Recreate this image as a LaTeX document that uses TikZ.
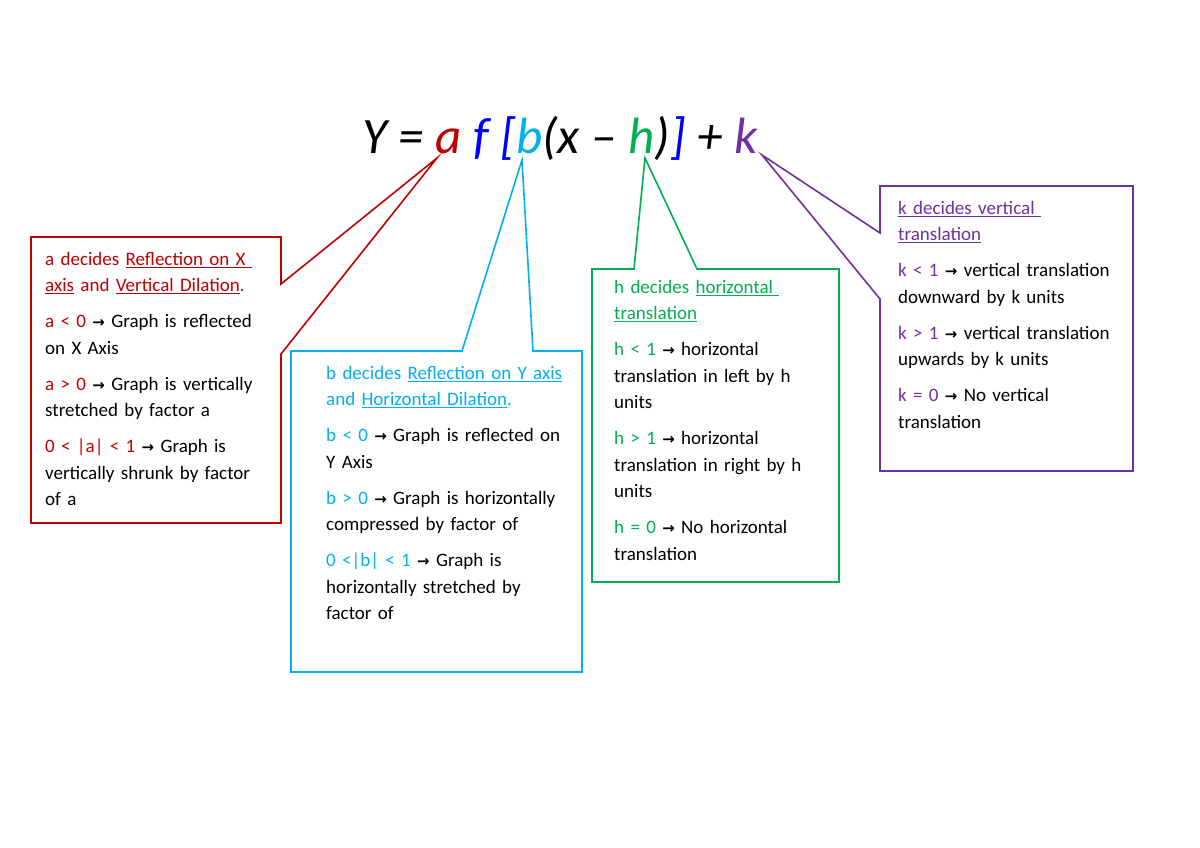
\documentclass[tikz,border=0pt]{standalone}
\usepackage{fontspec}
\setmainfont{Carlito}
\newfontfamily\dv{DejaVu Sans}
\definecolor{cr}{HTML}{C00000}
\definecolor{cb}{HTML}{0000FF}
\definecolor{clb}{HTML}{00B0F0}
\definecolor{cg}{HTML}{00B050}
\definecolor{cp}{HTML}{7030A0}
\newcommand{\ar}{ {\dv\bfseries\fontsize{15}{15}\selectfont →} }
\tikzset{txt/.style={anchor=north west,inner sep=0pt,align=left,font=\fontsize{19}{26.5}\selectfont,execute at begin node={\setlength{\parskip}{9.5pt}\raggedright\hyphenpenalty=10000\exhyphenpenalty=10000}},
 co/.style={line width=1.6pt}}
\begin{document}
\begin{tikzpicture}[x=1pt,y=-1pt]
\useasboundingbox[fill=white] (0,0) rectangle (1200,848);
\node[anchor=base,inner sep=0pt,font=\fontsize{51}{51}\selectfont\itshape] (eq) at (560,154) {Y = \textcolor{cr}{a} \textcolor{cb}{f [}\textcolor{clb}{b}(x \textendash{} \textcolor{cg}{h})\textcolor{cb}{]} + \textcolor{cp}{k}};
\draw[co,cr] (31,237) -- (281,237) -- (281,284) -- (437,158) -- (281,354) -- (281,523) -- (31,523) -- cycle;
\draw[co,clb] (291,351) -- (462,351) -- (522,160) -- (533,351) -- (582,351) -- (582,672) -- (291,672) -- cycle;
\draw[co,cg] (592,269) -- (634,269) -- (645,158) -- (697,269) -- (839,269) -- (839,582) -- (592,582) -- cycle;
\draw[co,cp] (880,186) -- (1133,186) -- (1133,471) -- (880,471) -- (880,299) -- (762,155) -- (880,233) -- cycle;
\node[txt,text width=235pt] (ta) at (45,252) {\textcolor{cr}{a decides \underline{Reflection on X }\\\underline{axis} and \underline{Vertical Dilation}.}\par
\textcolor{cr}{a < 0}\ar Graph is reflected\\on X Axis\par
\textcolor{cr}{a > 0}\ar Graph is vertically\\stretched by factor a\par
\textcolor{cr}{0 < |a| < 1}\ar Graph is\\vertically shrunk by factor\\of a};
\node[txt,text width=250pt] (tb) at (326,366) {\textcolor{clb}{b decides \underline{Reflection on Y axis}\\and \underline{Horizontal Dilation}.}\par
\textcolor{clb}{b < 0}\ar Graph is reflected on\\Y Axis\par
\textcolor{clb}{b > 0}\ar Graph is horizontally\\compressed by factor of\par
\textcolor{clb}{0 <|b| < 1}\ar Graph is\\horizontally stretched by\\factor of};
\node[txt,text width=220pt] (th) at (614,280) {\textcolor{cg}{h decides \underline{horizontal }\\\underline{translation}}\par
\textcolor{cg}{h < 1}\ar horizontal\\translation in left by h\\units\par
\textcolor{cg}{h > 1}\ar horizontal\\translation in right by h\\units\par
\textcolor{cg}{h = 0}\ar No horizontal\\translation};
\node[txt,text width=230pt] (tk) at (898,201) {\textcolor{cp}{\underline{k decides vertical }\\\underline{translation}}\par
\textcolor{cp}{k < 1}\ar vertical translation\\downward by k units\par
\textcolor{cp}{k > 1}\ar vertical translation\\upwards by k units\par
\textcolor{cp}{k = 0}\ar No vertical\\translation};
\end{tikzpicture}
\end{document}
